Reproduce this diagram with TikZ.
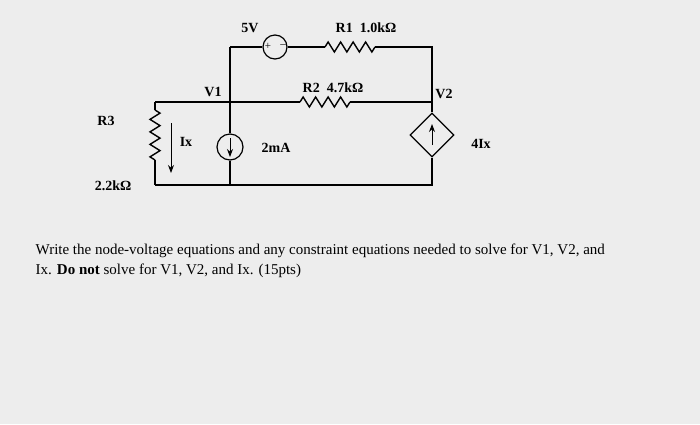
\documentclass[tikz,border=0pt]{standalone}
\usepackage{fontspec}
\setmainfont{Liberation Serif}
\usetikzlibrary{decorations.pathmorphing,shapes.geometric,arrows.meta}
\begin{document}
\begin{tikzpicture}[x=1pt,y=-1pt,line width=1.4pt,
  lbl/.style={font=\fontsize{14}{16}\selectfont\bfseries,inner sep=1pt},
  txt/.style={font=\fontsize{15}{18}\selectfont,anchor=west,inner sep=0pt},
  zig/.style={decorate,decoration={zigzag,segment length=12.5pt,amplitude=5pt}},
  src/.style={circle,draw,minimum size=26pt,inner sep=0pt,line width=1.2pt},
  dsrc/.style={diamond,draw,minimum size=44pt,inner sep=0pt,line width=1.2pt},
  arr/.style={-{Stealth[length=8pt,width=6pt]},line width=1pt},
  pm/.style={font=\fontsize{11}{11}\selectfont,inner sep=0pt}]
\useasboundingbox[fill=black!7] (0,0) rectangle (700,424);
\coordinate (tl) at (230,47); \coordinate (tr) at (432,47);
\coordinate (ml) at (230,102); \coordinate (mr) at (432,102);
\coordinate (r3t) at (155,102); \coordinate (r3b) at (155,185);
\coordinate (bl) at (230,185); \coordinate (br) at (432,185);
\node[src,minimum size=24pt] (vs) at (275,47) {};
\node[pm] (vp) at (268,46) {+}; \node[pm] (vm) at (283,46) {–};
\node[src] (cs) at (230,147) {};
\draw[arr] (230,138) -- (230,157);
\node[dsrc] (ds) at (432,135) {};
\draw[arr] (432,145) -- (432,124);
% wires
\draw (tl) -- (vs.west);
\draw (vs.east) -- (325,47);
\draw[zig] (325,47) -- (375,47);
\draw (375,47) -- (tr) -- (mr) -- (ds.north);
\draw (ds.south) -- (br) -- (bl) -- (r3b);
\draw (tl) -- (ml) -- (cs.north);
\draw (cs.south) -- (bl);
\draw (r3t) -- (ml) -- (300,102);
\draw[zig] (300,102) -- (350,102);
\draw (350,102) -- (mr);
\draw (r3t) -- (155,110);
\draw[zig] (155,110) -- (155,160);
\draw (155,160) -- (r3b);
\draw[arr] (171,123) -- (171,173);
% labels
\node[lbl] (l5v) at (250,28) {5V};
\node[lbl] (lr1) at (366,28) {R1\ \ 1.0kΩ};
\node[lbl] (lr2) at (333,88) {R2\ \ 4.7kΩ};
\node[lbl] (lv1) at (213,92) {V1};
\node[lbl] (lv2) at (444,94) {V2};
\node[lbl] (lr3) at (106,121) {R3};
\node[lbl] (lr3v) at (113,186) {2.2kΩ};
\node[lbl] (lix) at (186,142) {Ix};
\node[lbl] (l2ma) at (276,148) {2mA};
\node[lbl] (l4ix) at (481,144) {4Ix};
\node[txt] (t1) at (35,251) {Write the node-voltage equations and any constraint equations needed to solve for V1, V2, and};
\node[txt] (t2) at (35,271) {Ix. \textbf{Do not} solve for V1, V2, and Ix. (15pts)};
\end{tikzpicture}
\end{document}
